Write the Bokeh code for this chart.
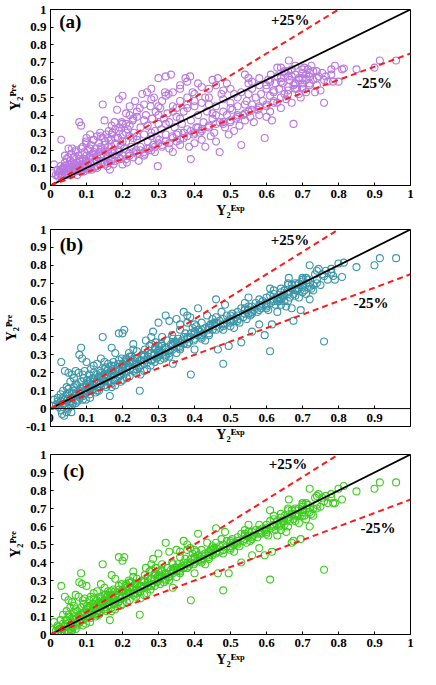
from bokeh.plotting import figure
from bokeh.layouts import column
from bokeh.models import ColumnDataSource, Label, Span, FixedTicker
from bokeh.core.properties import value
from bokeh.embed import file_html
from bokeh.resources import INLINE

# ---------------- data ----------------
y2_exp = [
    0.005, 0.01, 0.015, 0.02, 0.022, 0.025, 0.028, 0.03, 0.032, 0.035,
    0.038, 0.04, 0.04, 0.042, 0.045, 0.045, 0.048, 0.05, 0.05, 0.052,
    0.055, 0.055, 0.058, 0.06, 0.06, 0.062, 0.065, 0.065, 0.068, 0.07,
    0.072, 0.075, 0.075, 0.078, 0.08, 0.08, 0.082, 0.085, 0.085, 0.088,
    0.09, 0.09, 0.092, 0.095, 0.095, 0.098, 0.10, 0.10, 0.10, 0.102,
    0.105, 0.108, 0.11, 0.11, 0.112, 0.115, 0.118, 0.12, 0.12, 0.125,
    0.128, 0.13, 0.13, 0.135, 0.135, 0.138, 0.14, 0.14, 0.145, 0.145,
    0.15, 0.15, 0.152, 0.155, 0.155, 0.158, 0.16, 0.16, 0.162, 0.165,
    0.168, 0.17, 0.17, 0.172, 0.175, 0.175, 0.178, 0.18, 0.18, 0.185,
    0.188, 0.19, 0.19, 0.192, 0.195, 0.195, 0.198, 0.20, 0.20, 0.205,
    0.21, 0.21, 0.212, 0.215, 0.218, 0.22, 0.22, 0.225, 0.228, 0.23,
    0.232, 0.235, 0.238, 0.24, 0.24, 0.245, 0.248, 0.25, 0.25, 0.255,
    0.26, 0.262, 0.265, 0.268, 0.27, 0.27, 0.275, 0.278, 0.28, 0.28,
    0.282, 0.285, 0.288, 0.29, 0.29, 0.292, 0.295, 0.298, 0.30, 0.30,
    0.302, 0.305, 0.308, 0.31, 0.31, 0.315, 0.318, 0.32, 0.32, 0.325,
    0.328, 0.33, 0.33, 0.335, 0.338, 0.34, 0.34, 0.345, 0.35, 0.35,
    0.355, 0.36, 0.36, 0.365, 0.37, 0.37, 0.375, 0.38, 0.38, 0.385,
    0.388, 0.39, 0.39, 0.395, 0.398, 0.40, 0.40, 0.405, 0.41, 0.41,
    0.415, 0.42, 0.42, 0.425, 0.43, 0.43, 0.435, 0.44, 0.44, 0.445,
    0.45, 0.45, 0.455, 0.46, 0.46, 0.465, 0.47, 0.47, 0.475, 0.48,
    0.485, 0.49, 0.49, 0.495, 0.50, 0.50, 0.505, 0.51, 0.51, 0.515,
    0.52, 0.525, 0.53, 0.53, 0.535, 0.54, 0.54, 0.545, 0.55, 0.55,
    0.555, 0.56, 0.56, 0.565, 0.57, 0.575, 0.58, 0.58, 0.585, 0.59,
    0.595, 0.60, 0.60, 0.605, 0.61, 0.61, 0.612, 0.615, 0.62, 0.625,
    0.63, 0.63, 0.635, 0.64, 0.64, 0.645, 0.65, 0.65, 0.655, 0.66,
    0.662, 0.665, 0.67, 0.67, 0.675, 0.675, 0.68, 0.685, 0.69, 0.69,
    0.695, 0.70, 0.70, 0.705, 0.71, 0.71, 0.715, 0.72, 0.72, 0.725,
    0.73, 0.735, 0.74, 0.745, 0.75, 0.755, 0.76, 0.765, 0.77, 0.78,
    0.785, 0.79, 0.80, 0.81, 0.815, 0.85, 0.90, 0.915, 0.96, 0.66,
    0.03, 0.06, 0.08, 0.11, 0.14, 0.17, 0.2, 0.23, 0.26, 0.35,
    0.42, 0.45, 0.48, 0.52, 0.55, 0.58, 0.62, 0.64, 0.68, 0.70,
    0.025, 0.035, 0.045, 0.055, 0.065, 0.075, 0.085, 0.095, 0.105, 0.115,
    0.12, 0.13, 0.14, 0.15, 0.16, 0.17, 0.18, 0.19, 0.20, 0.21,
    0.22, 0.23, 0.24, 0.25, 0.26, 0.27, 0.28, 0.29, 0.30, 0.31,
    0.32, 0.33, 0.34, 0.35, 0.36, 0.37, 0.38, 0.39, 0.40, 0.41,
    0.10, 0.12, 0.14, 0.16, 0.18, 0.20, 0.22, 0.24, 0.26, 0.28,
    0.30, 0.32, 0.34, 0.36, 0.38, 0.40, 0.42, 0.44, 0.46, 0.48,
    0.42, 0.44, 0.46, 0.48, 0.50, 0.52, 0.54, 0.56, 0.58, 0.60,
    0.62, 0.64, 0.66, 0.68, 0.70, 0.72, 0.74, 0.50, 0.55, 0.60,
    0.61, 0.63, 0.65, 0.67, 0.69, 0.71, 0.73, 0.66, 0.68, 0.70,
    0.02, 0.03, 0.04, 0.05, 0.06, 0.07, 0.08, 0.09, 0.10, 0.11,
    0.12, 0.13, 0.14, 0.15, 0.16, 0.17, 0.18, 0.19, 0.20, 0.21,
    0.22, 0.24, 0.26, 0.28, 0.30, 0.32, 0.34, 0.36, 0.38, 0.40,
    0.05, 0.07, 0.09, 0.11, 0.13, 0.15, 0.17, 0.19, 0.21, 0.23,
    0.44, 0.46, 0.48, 0.50, 0.52, 0.54, 0.56, 0.58, 0.60, 0.62,
    0.64, 0.66, 0.68, 0.70, 0.72, 0.74, 0.76, 0.78, 0.36, 0.38,
]

y2_pre_a = [
    0.07, 0.12, 0.06, 0.09, 0.05, 0.08, 0.11, 0.26, 0.06, 0.10,
    0.08, 0.13, 0.17, 0.07, 0.10, 0.15, 0.06, 0.21, 0.12, 0.09,
    0.14, 0.08, 0.18, 0.11, 0.21, 0.07, 0.16, 0.12, 0.09, 0.20,
    0.10, 0.13, 0.06, 0.17, 0.36, 0.09, 0.14, 0.34, 0.21, 0.12,
    0.15, 0.22, 0.08, 0.19, 0.12, 0.25, 0.10, 0.17, 0.27, 0.13,
    0.20, 0.11, 0.29, 0.16, 0.23, 0.09, 0.18, 0.26, 0.13, 0.21,
    0.14, 0.28, 0.10, 0.24, 0.19, 0.30, 0.12, 0.22, 0.46, 0.27,
    0.37, 0.13, 0.25, 0.18, 0.29, 0.11, 0.22, 0.16, 0.31, 0.09,
    0.26, 0.34, 0.14, 0.30, 0.20, 0.12, 0.36, 0.24, 0.17, 0.43,
    0.27, 0.49, 0.19, 0.33, 0.15, 0.23, 0.36, 0.51, 0.29, 0.21,
    0.25, 0.41, 0.13, 0.32, 0.18, 0.45, 0.28, 0.22, 0.37, 0.16,
    0.30, 0.48, 0.20, 0.39, 0.26, 0.14, 0.44, 0.33, 0.22, 0.52,
    0.29, 0.18, 0.40, 0.53, 0.25, 0.34, 0.21, 0.45, 0.55, 0.28,
    0.38, 0.23, 0.50, 0.31, 0.19, 0.42, 0.27, 0.11, 0.61, 0.35,
    0.26, 0.44, 0.32, 0.48, 0.22, 0.38, 0.53, 0.62, 0.29, 0.41,
    0.52, 0.24, 0.36, 0.63, 0.28, 0.45, 0.19, 0.33, 0.39, 0.25,
    0.30, 0.48, 0.23, 0.35, 0.42, 0.27, 0.61, 0.32, 0.50, 0.22,
    0.62, 0.15, 0.37, 0.53, 0.29, 0.45, 0.24, 0.33, 0.58, 0.40,
    0.30, 0.47, 0.26, 0.36, 0.50, 0.22, 0.42, 0.34, 0.55, 0.28,
    0.38, 0.60, 0.30, 0.45, 0.25, 0.61, 0.19, 0.36, 0.52, 0.42,
    0.33, 0.58, 0.40, 0.29, 0.47, 0.36, 0.43, 0.31, 0.52, 0.38,
    0.45, 0.34, 0.23, 0.53, 0.40, 0.63, 0.37, 0.48, 0.58, 0.42,
    0.39, 0.55, 0.46, 0.36, 0.50, 0.43, 0.57, 0.40, 0.52, 0.48,
    0.27, 0.45, 0.55, 0.60, 0.42, 0.51, 0.63, 0.37, 0.48, 0.58,
    0.67, 0.47, 0.55, 0.61, 0.44, 0.58, 0.52, 0.65, 0.49, 0.56,
    0.71, 0.60, 0.47, 0.66, 0.35, 0.57, 0.63, 0.55, 0.61, 0.52,
    0.50, 0.64, 0.58, 0.67, 0.53, 0.60, 0.66, 0.62, 0.57, 0.68,
    0.60, 0.53, 0.65, 0.62, 0.54, 0.64, 0.47, 0.62, 0.59, 0.66,
    0.59, 0.68, 0.59, 0.66, 0.665, 0.66, 0.67, 0.71, 0.71, 0.62,
    0.09, 0.10, 0.12, 0.15, 0.17, 0.19, 0.12, 0.27, 0.17, 0.44,
    0.32, 0.41, 0.35, 0.39, 0.61, 0.45, 0.53, 0.59, 0.58, 0.55,
    0.07, 0.09, 0.08, 0.10, 0.09, 0.11, 0.08, 0.10, 0.09, 0.12,
    0.10, 0.11, 0.14, 0.12, 0.13, 0.15, 0.14, 0.16, 0.17, 0.15,
    0.17, 0.19, 0.18, 0.20, 0.19, 0.21, 0.20, 0.22, 0.24, 0.23,
    0.25, 0.21, 0.27, 0.29, 0.26, 0.30, 0.28, 0.31, 0.30, 0.33,
    0.24, 0.26, 0.28, 0.27, 0.32, 0.35, 0.40, 0.42, 0.46, 0.49,
    0.45, 0.51, 0.53, 0.55, 0.59, 0.52, 0.56, 0.50, 0.57, 0.54,
    0.31, 0.33, 0.35, 0.36, 0.37, 0.40, 0.41, 0.43, 0.44, 0.46,
    0.47, 0.50, 0.52, 0.55, 0.56, 0.58, 0.61, 0.55, 0.52, 0.57,
    0.59, 0.62, 0.64, 0.62, 0.60, 0.63, 0.65, 0.54, 0.58, 0.61,
    0.06, 0.05, 0.11, 0.07, 0.13, 0.08, 0.15, 0.10, 0.14, 0.17,
    0.19, 0.16, 0.21, 0.23, 0.19, 0.22, 0.27, 0.20, 0.25, 0.30,
    0.34, 0.28, 0.37, 0.30, 0.40, 0.35, 0.42, 0.38, 0.44, 0.48,
    0.16, 0.19, 0.14, 0.21, 0.17, 0.20, 0.29, 0.31, 0.35, 0.38,
    0.46, 0.40, 0.49, 0.44, 0.50, 0.46, 0.59, 0.61, 0.39, 0.54,
    0.67, 0.65, 0.68, 0.66, 0.64, 0.57, 0.60, 0.63, 0.57, 0.46,
]

y2_pre_b = [
    0.015, 0.05, 0.02, 0.06, 0.01, 0.03, 0.08, 0.26, -0.03, 0.10,
    -0.04, 0.03, 0.21, 0.07, -0.02, 0.12, 0.05, 0.20, 0.01, 0.09,
    0.04, 0.15, -0.02, 0.06, 0.19, 0.03, 0.10, 0.17, 0.07, 0.21,
    0.08, 0.05, 0.13, 0.20, 0.30, 0.09, 0.06, 0.34, 0.15, 0.28,
    0.07, 0.12, 0.17, 0.10, 0.21, 0.05, 0.13, 0.09, 0.26, 0.16,
    0.11, 0.19, 0.08, 0.14, 0.22, 0.10, 0.17, 0.13, 0.24, 0.09,
    0.15, 0.12, 0.25, 0.18, 0.10, 0.21, 0.14, 0.28, 0.40, 0.16,
    0.13, 0.19, 0.23, 0.12, 0.17, 0.21, 0.15, 0.25, 0.20, 0.07,
    0.18, 0.34, 0.14, 0.22, 0.16, 0.26, 0.19, 0.31, 0.13, 0.23,
    0.17, 0.42, 0.21, 0.25, 0.15, 0.19, 0.28, 0.42, 0.23, 0.44,
    0.20, 0.27, 0.17, 0.24, 0.31, 0.22, 0.18, 0.29, 0.26, 0.36,
    0.22, 0.28, 0.20, 0.25, 0.32, 0.23, 0.10, 0.27, 0.19, 0.30,
    0.25, 0.33, 0.38, 0.22, 0.29, 0.26, 0.35, 0.24, 0.31, 0.40,
    0.27, 0.43, 0.30, 0.26, 0.34, 0.37, 0.28, 0.32, 0.48, 0.29,
    0.33, 0.27, 0.36, 0.31, 0.40, 0.28, 0.34, 0.52, 0.30, 0.38,
    0.32, 0.49, 0.29, 0.36, 0.41, 0.33, 0.25, 0.37, 0.50, 0.34,
    0.39, 0.35, 0.44, 0.38, 0.54, 0.36, 0.42, 0.39, 0.52, 0.37,
    0.51, 0.19, 0.40, 0.45, 0.38, 0.42, 0.33, 0.46, 0.56, 0.41,
    0.43, 0.39, 0.48, 0.42, 0.45, 0.38, 0.52, 0.44, 0.41, 0.47,
    0.50, 0.44, 0.48, 0.61, 0.46, 0.33, 0.49, 0.45, 0.54, 0.25,
    0.58, 0.48, 0.52, 0.35, 0.50, 0.46, 0.53, 0.49, 0.45, 0.51,
    0.54, 0.48, 0.37, 0.56, 0.51, 0.59, 0.53, 0.50, 0.62, 0.55,
    0.52, 0.57, 0.43, 0.55, 0.59, 0.54, 0.58, 0.47, 0.56, 0.60,
    0.41, 0.57, 0.62, 0.55, 0.67, 0.32, 0.59, 0.47, 0.61, 0.58,
    0.62, 0.54, 0.60, 0.65, 0.58, 0.63, 0.60, 0.66, 0.57, 0.70,
    0.73, 0.62, 0.56, 0.67, 0.49, 0.64, 0.69, 0.66, 0.62, 0.70,
    0.55, 0.68, 0.71, 0.66, 0.70, 0.64, 0.72, 0.61, 0.80, 0.67,
    0.66, 0.75, 0.70, 0.78, 0.69, 0.75, 0.375, 0.77, 0.72, 0.78,
    0.74, 0.72, 0.81, 0.735, 0.815, 0.79, 0.80, 0.84, 0.84, 0.69,
    0.04, 0.02, 0.10, 0.06, 0.20, 0.12, 0.16, 0.33, 0.21, 0.31,
    0.44, 0.47, 0.46, 0.50, 0.57, 0.55, 0.64, 0.61, 0.67, 0.65,
    0.02, 0.06, 0.08, 0.02, 0.12, 0.04, 0.11, 0.08, 0.15, 0.12,
    0.11, 0.16, 0.12, 0.22, 0.19, 0.20, 0.24, 0.18, 0.25, 0.23,
    0.25, 0.21, 0.28, 0.24, 0.30, 0.31, 0.27, 0.33, 0.31, 0.35,
    0.34, 0.31, 0.36, 0.37, 0.33, 0.40, 0.36, 0.42, 0.39, 0.44,
    0.14, 0.15, 0.17, 0.18, 0.21, 0.24, 0.26, 0.28, 0.29, 0.31,
    0.30, 0.33, 0.35, 0.37, 0.40, 0.43, 0.41, 0.46, 0.48, 0.47,
    0.40, 0.45, 0.44, 0.50, 0.49, 0.52, 0.55, 0.54, 0.57, 0.59,
    0.60, 0.62, 0.65, 0.66, 0.69, 0.70, 0.72, 0.48, 0.53, 0.58,
    0.63, 0.60, 0.63, 0.69, 0.67, 0.73, 0.69, 0.64, 0.70, 0.72,
    0.04, -0.01, 0.05, 0.11, 0.09, 0.14, 0.07, 0.19, 0.10, 0.16,
    0.20, 0.10, 0.18, 0.15, 0.22, 0.24, 0.16, 0.27, 0.21, 0.26,
    0.29, 0.22, 0.27, 0.36, 0.35, 0.29, 0.39, 0.34, 0.36, 0.47,
    0.00, 0.03, 0.05, 0.12, 0.19, 0.26, 0.21, 0.22, 0.28, 0.27,
    0.42, 0.51, 0.44, 0.52, 0.49, 0.56, 0.53, 0.61, 0.56, 0.66,
    0.67, 0.60, 0.63, 0.73, 0.68, 0.77, 0.74, 0.76, 0.47, 0.48,
]

y2_pre_c = [
    0.025, 0.07, 0.02, 0.05, 0.015, 0.03, 0.08, 0.27, 0.01, 0.11,
    0.01, 0.04, 0.21, 0.08, 0.015, 0.13, 0.06, 0.19, 0.02, 0.10,
    0.05, 0.15, 0.02, 0.07, 0.18, 0.04, 0.10, 0.16, 0.08, 0.22,
    0.09, 0.06, 0.13, 0.21, 0.29, 0.10, 0.07, 0.34, 0.15, 0.28,
    0.08, 0.12, 0.17, 0.11, 0.20, 0.06, 0.14, 0.10, 0.27, 0.16,
    0.12, 0.19, 0.09, 0.15, 0.21, 0.11, 0.17, 0.14, 0.23, 0.10,
    0.16, 0.13, 0.24, 0.18, 0.11, 0.21, 0.15, 0.28, 0.39, 0.17,
    0.14, 0.19, 0.22, 0.13, 0.18, 0.21, 0.16, 0.24, 0.20, 0.08,
    0.18, 0.33, 0.15, 0.22, 0.17, 0.25, 0.19, 0.31, 0.14, 0.23,
    0.18, 0.43, 0.21, 0.25, 0.16, 0.20, 0.28, 0.41, 0.24, 0.43,
    0.21, 0.27, 0.18, 0.24, 0.30, 0.23, 0.19, 0.29, 0.26, 0.35,
    0.23, 0.28, 0.21, 0.25, 0.31, 0.24, 0.11, 0.27, 0.20, 0.30,
    0.26, 0.33, 0.37, 0.23, 0.29, 0.27, 0.35, 0.25, 0.31, 0.39,
    0.28, 0.42, 0.30, 0.27, 0.34, 0.37, 0.29, 0.32, 0.45, 0.30,
    0.33, 0.28, 0.36, 0.32, 0.39, 0.29, 0.34, 0.51, 0.31, 0.37,
    0.32, 0.46, 0.30, 0.36, 0.40, 0.34, 0.26, 0.37, 0.47, 0.35,
    0.39, 0.36, 0.43, 0.38, 0.52, 0.37, 0.42, 0.39, 0.50, 0.38,
    0.48, 0.19, 0.40, 0.45, 0.39, 0.42, 0.34, 0.46, 0.56, 0.41,
    0.43, 0.40, 0.47, 0.42, 0.45, 0.39, 0.51, 0.44, 0.42, 0.47,
    0.49, 0.44, 0.48, 0.59, 0.46, 0.34, 0.49, 0.46, 0.53, 0.245,
    0.57, 0.49, 0.52, 0.34, 0.51, 0.47, 0.53, 0.50, 0.46, 0.51,
    0.54, 0.49, 0.40, 0.56, 0.52, 0.58, 0.53, 0.51, 0.61, 0.55,
    0.52, 0.57, 0.44, 0.55, 0.58, 0.54, 0.58, 0.48, 0.56, 0.59,
    0.44, 0.57, 0.61, 0.55, 0.69, 0.305, 0.59, 0.46, 0.61, 0.58,
    0.63, 0.55, 0.60, 0.65, 0.58, 0.63, 0.61, 0.66, 0.57, 0.70,
    0.75, 0.63, 0.51, 0.67, 0.52, 0.64, 0.69, 0.66, 0.62, 0.70,
    0.53, 0.68, 0.71, 0.66, 0.70, 0.64, 0.72, 0.60, 0.81, 0.67,
    0.66, 0.76, 0.70, 0.78, 0.71, 0.76, 0.36, 0.77, 0.73, 0.78,
    0.73, 0.73, 0.81, 0.75, 0.825, 0.795, 0.81, 0.845, 0.845, 0.69,
    0.03, 0.025, 0.10, 0.07, 0.20, 0.13, 0.17, 0.32, 0.22, 0.32,
    0.44, 0.47, 0.47, 0.51, 0.57, 0.56, 0.64, 0.61, 0.67, 0.66,
    0.03, 0.06, 0.08, 0.03, 0.12, 0.05, 0.11, 0.09, 0.15, 0.12,
    0.11, 0.16, 0.13, 0.22, 0.19, 0.20, 0.24, 0.18, 0.25, 0.23,
    0.25, 0.22, 0.28, 0.24, 0.30, 0.31, 0.27, 0.33, 0.31, 0.35,
    0.34, 0.32, 0.36, 0.37, 0.34, 0.40, 0.37, 0.42, 0.40, 0.44,
    0.14, 0.15, 0.17, 0.18, 0.21, 0.24, 0.26, 0.28, 0.29, 0.31,
    0.31, 0.33, 0.35, 0.37, 0.40, 0.43, 0.42, 0.46, 0.48, 0.47,
    0.41, 0.45, 0.45, 0.50, 0.49, 0.52, 0.55, 0.54, 0.57, 0.59,
    0.60, 0.62, 0.65, 0.66, 0.69, 0.70, 0.72, 0.48, 0.54, 0.58,
    0.63, 0.61, 0.63, 0.69, 0.67, 0.73, 0.70, 0.64, 0.70, 0.72,
    0.04, 0.015, 0.05, 0.11, 0.09, 0.14, 0.07, 0.19, 0.10, 0.16,
    0.20, 0.11, 0.18, 0.15, 0.22, 0.24, 0.17, 0.27, 0.21, 0.26,
    0.29, 0.23, 0.27, 0.36, 0.35, 0.30, 0.39, 0.35, 0.37, 0.47,
    0.01, 0.03, 0.05, 0.12, 0.19, 0.26, 0.21, 0.22, 0.28, 0.27,
    0.43, 0.51, 0.45, 0.52, 0.50, 0.56, 0.53, 0.61, 0.56, 0.66,
    0.67, 0.60, 0.63, 0.73, 0.68, 0.77, 0.74, 0.76, 0.46, 0.47,
]

x_ticks = [0, 0.1, 0.2, 0.3, 0.4, 0.5, 0.6, 0.7, 0.8, 0.9, 1]
y_ticks = [0, 0.1, 0.2, 0.3, 0.4, 0.5, 0.6, 0.7, 0.8, 0.9, 1]
y_ticks_b = [-0.1, 0, 0.1, 0.2, 0.3, 0.4, 0.5, 0.6, 0.7, 0.8, 0.9, 1]
x_tick_labels_b = ["0", "0.1", "0.2", "0.3", "0.4", "0.5", "0.6", "0.7", "0.8", "0.9"]
x_tick_pos_b = [0, 0.1, 0.2, 0.3, 0.4, 0.5, 0.6, 0.7, 0.8, 0.9]

FONT = "Liberation Serif"
X_TITLE = "Y\u2082\u1d31\u02e3\u1d56"
Y_TITLE = "Y\u2082\u1d3e\u02b3\u1d49"


def fmt(t):
    if t == 0:
        return "0"
    if t == 1:
        return "1"
    return str(t)


def make_panel(y_pred, color, tag, y_start, yt, w, h, bl, br, bt, bb, lab_pos,
               inner_x_axis=False):
    n = min(len(y2_exp), len(y_pred))
    src = ColumnDataSource(dict(x=y2_exp[:n], y=y_pred[:n]))
    p = figure(width=w, height=h, x_range=(0, 1), y_range=(y_start, 1),
               output_backend="svg", toolbar_location=None,
               min_border_left=bl, min_border_right=br,
               min_border_top=bt, min_border_bottom=bb)
    p.grid.visible = False
    p.outline_line_color = "black"
    p.outline_line_width = 1
    p.background_fill_color = "white"
    p.border_fill_color = "white"

    p.scatter("x", "y", source=src, marker="circle", size=7,
              fill_color=None, line_color=color, line_width=1.1)

    # reference lines
    p.line([0, 1], [0, 1], line_color="black", line_width=1.8)
    p.line([0, 0.8], [0, 1.0], line_color="#FF1A1A", line_width=2, line_dash="6 4")
    p.line([0, 1], [0, 0.75], line_color="#FF1A1A", line_width=2, line_dash="6 4")

    for ax in (p.xaxis[0], p.yaxis[0]):
        ax.axis_line_color = "black"
        ax.major_tick_in = 3
        ax.major_tick_out = 0
        ax.minor_tick_line_color = None
        ax.major_label_text_font = FONT
        ax.major_label_text_font_style = "bold"
        ax.major_label_text_font_size = "13px"
        ax.major_label_text_color = "black"
        ax.axis_label_text_font = FONT
        ax.axis_label_text_font_style = "bold"
        ax.axis_label_text_font_size = "14px"
        ax.axis_label_text_color = "black"
        ax.major_label_standoff = 4

    p.xaxis.ticker = FixedTicker(ticks=x_ticks)
    p.xaxis.major_label_overrides = {t: fmt(t) for t in x_ticks}
    p.yaxis.ticker = FixedTicker(ticks=yt)
    p.yaxis.major_label_overrides = {t: fmt(t) for t in yt}
    p.xaxis.axis_label = X_TITLE
    p.yaxis.axis_label = Y_TITLE
    p.xaxis.axis_label_standoff = 2
    p.yaxis.axis_label_standoff = 4

    if inner_x_axis:
        p.xaxis.ticker = FixedTicker(ticks=[])
        p.xaxis.major_label_standoff = 0
        p.xaxis.axis_label_standoff = 0
        p.add_layout(Span(location=0, dimension="width", line_color="black",
                          line_width=1))
        p.segment(x0=x_tick_pos_b, y0=[0] * len(x_tick_pos_b),
                  x1=x_tick_pos_b, y1=[0.017] * len(x_tick_pos_b),
                  line_color="black", line_width=1)
        tsrc = ColumnDataSource(dict(x=x_tick_pos_b, y=[-0.055] * len(x_tick_pos_b),
                                     t=x_tick_labels_b))
        p.text(x="x", y="y", text="t", source=tsrc, text_font=value(FONT),
               text_font_style="bold", text_font_size="13px", text_color="black",
               text_align="center", text_baseline="middle")

    (px, py), (mx, my), (tx, ty) = lab_pos
    p.add_layout(Label(x=px, y=py, text="+25%", text_font=FONT,
                       text_font_style="bold", text_font_size="15px",
                       text_color="black",
                       text_align="center", text_baseline="middle"))
    p.add_layout(Label(x=mx, y=my, text="-25%", text_font=FONT,
                       text_font_style="bold", text_font_size="15px",
                       text_color="black",
                       text_align="center", text_baseline="middle"))
    p.add_layout(Label(x=tx, y=ty, text=tag, text_font=FONT,
                       text_font_style="bold", text_font_size="19px",
                       text_color="black",
                       text_align="center", text_baseline="middle"))
    return p


pa = make_panel(y2_pre_a, "#B878DE", "(a)", 0, y_ticks, 420, 220, 42, 3, 9, 34,
                ((0.666, 0.94), (0.90, 0.584), (0.055, 0.93)))
pb = make_panel(y2_pre_b, "#3A96A8", "(b)", -0.1, y_ticks_b, 420, 224, 38, 5, 9, 17,
                ((0.665, 0.94), (0.89, 0.587), (0.058, 0.916)), inner_x_axis=True)
pc = make_panel(y2_pre_c, "#3DCC1F", "(c)", 0, y_ticks, 420, 225, 34, 10, 10, 35,
                ((0.66, 0.95), (0.91, 0.59), (0.065, 0.91)))

layout = column(pa, pb, pc, spacing=0)
open("out.html", "w").write(file_html(layout, INLINE))
